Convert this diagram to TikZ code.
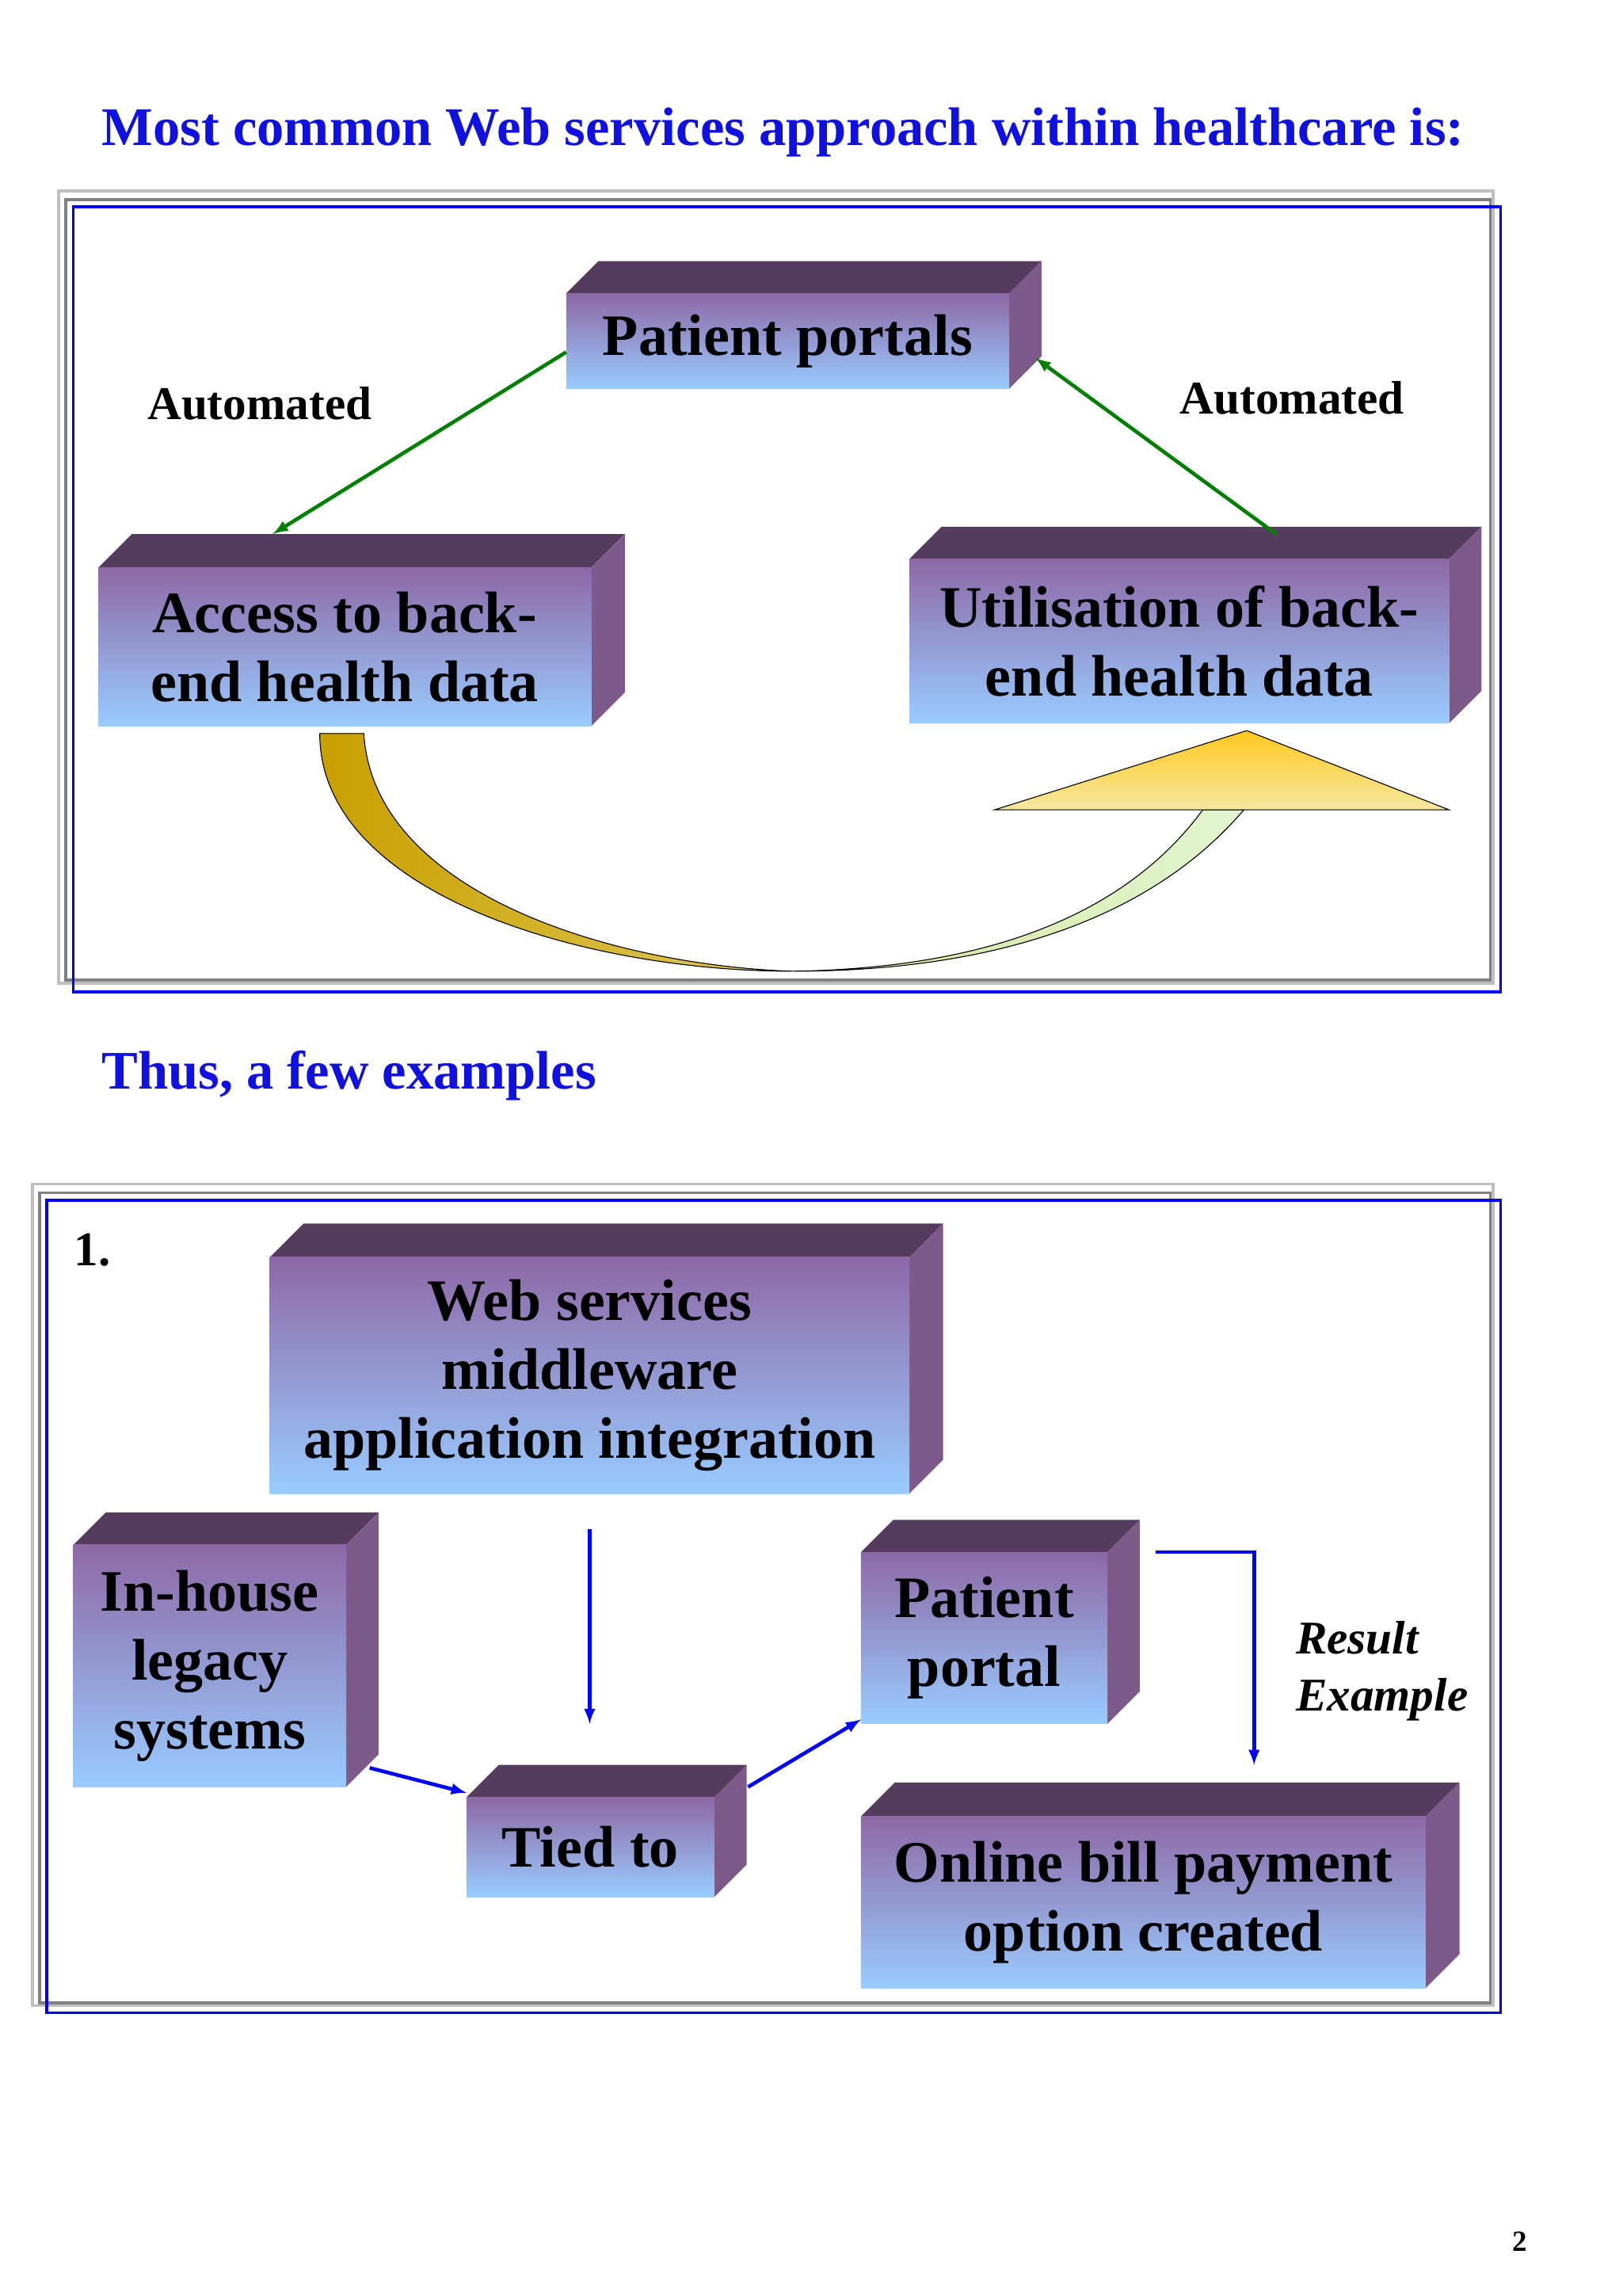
\documentclass[tikz,border=0pt]{standalone}
\usepackage{fontspec}
\setmainfont{Liberation Serif}
\begin{document}
\definecolor{ftop}{HTML}{8E68A6}
\definecolor{fbot}{HTML}{99CCFF}
\definecolor{ttop}{HTML}{553C5E}
\definecolor{sside}{HTML}{7E5A8A}
\definecolor{ttl}{HTML}{1010E0}
\definecolor{gold}{RGB}{200,160,0}
\definecolor{goldl}{RGB}{225,200,90}
\definecolor{grn1}{RGB}{215,230,150}
\definecolor{grn2}{RGB}{225,245,210}
\definecolor{yel1}{RGB}{255,200,30}
\definecolor{yel2}{RGB}{245,232,160}
\definecolor{dgreen}{RGB}{0,128,0}
\tikzset{
 front/.style={top color=ftop,bottom color=fbot,draw=none},
 btxt/.style={font=\fontsize{40}{47}\selectfont\bfseries,align=center,text=black},
 lbl/.style={font=\fontsize{32}{38}\selectfont\bfseries,text=black},
 garr/.style={draw=dgreen,line width=2.5pt,-latex},
 barr/.style={draw=blue,line width=2.5pt,-latex},
 gframe/.style={draw=gray!50,line width=2pt},
 bframe/.style={draw=blue,line width=2pt},
}
\newcommand{\mybox}[7]{%
 \fill[ttop] (#2,#5) -- (#2+#6,#5-#6) -- (#4+#6,#5-#6) -- (#4,#5) -- cycle;
 \fill[sside] (#4,#5) -- (#4+#6,#5-#6) -- (#4+#6,#3-#6) -- (#4,#3) -- cycle;
 \path[front] (#2,#3) rectangle (#4,#5);
 \node[btxt] (#1) at ({(#2+#4)/2},{(#3+#5)/2}) {#7};
}
\begin{tikzpicture}[x=1pt,y=-1pt]
\useasboundingbox[fill=white] (0,0) rectangle (1106,1565);
\node[font=\fontsize{37}{44}\selectfont\bfseries,text=ttl,anchor=west] (title) at (66,90) {Most common Web services approach within healthcare is:};
\draw[gframe] (40,130) rectangle (1018,670);
\draw[gframe,draw=gray] (45,136) rectangle (1016,668);
\draw[bframe] (50,141) rectangle (1023,676);
\fill[left color=gold,right color=goldl,draw=black,line width=0.6pt]
 (218,500) .. controls (218,610) and (400,662) .. (540,662)
 .. controls (420,658) and (255,610) .. (248,500) -- cycle;
\fill[left color=grn1,right color=grn2,draw=black,line width=0.6pt]
 (540,662) .. controls (690,662) and (790,620) .. (848,552)
 -- (820,552) .. controls (770,620) and (680,660) .. (540,662) -- cycle;
\fill[top color=yel1,bottom color=yel2,draw=black,line width=0.6pt]
 (678,552) -- (850,498) -- (988,552) -- cycle;
\mybox{pp}{386}{265}{688}{200}{22}{Patient portals}
\mybox{acc}{67}{495}{403}{387}{23}{Access to back-\\end health data}
\mybox{util}{620}{493}{988}{381}{22}{Utilisation of back-\\end health data}
\coordinate (a1s) at (386,240); \coordinate (a1e) at (186,364);
\coordinate (a2s) at (870,364); \coordinate (a2e) at (706,244);
\draw[garr] (a1s) -- (a1e);
\draw[garr] (a2s) -- (a2e);
\node[lbl] (au1) at (177,275) {Automated};
\node[lbl] (au2) at (881,271) {Automated};
\node[font=\fontsize{37}{44}\selectfont\bfseries,text=ttl,anchor=west] (thus) at (66,733) {Thus, a few examples};
\draw[gframe] (22,807) rectangle (1018,1367);
\draw[gframe,draw=gray] (27,813) rectangle (1016,1365);
\draw[bframe] (32,818) rectangle (1023,1372);
\node[font=\fontsize{33}{38}\selectfont\bfseries] (one) at (63,852) {1.};
\mybox{ws}{184}{1018}{620}{857}{23}{Web services\\middleware\\application integration}
\mybox{ih}{50}{1218}{236}{1053}{22}{In-house\\legacy\\systems}
\mybox{tied}{318}{1293}{487}{1225}{22}{Tied to}
\mybox{ppo}{587}{1175}{755}{1058}{22}{Patient\\portal}
\mybox{bill}{587}{1355}{972}{1238}{23}{Online bill payment\\option created}
\coordinate (b1s) at (402,1042); \coordinate (b1e) at (402,1175);
\coordinate (b2s) at (252,1205); \coordinate (b2e) at (318,1222);
\coordinate (b3s) at (510,1218); \coordinate (b3e) at (587,1172);
\coordinate (b4s) at (788,1058); \coordinate (b4m) at (855,1058); \coordinate (b4e) at (855,1203);
\draw[barr] (b1s) -- (b1e);
\draw[barr] (b2s) -- (b2e);
\draw[barr] (b3s) -- (b3e);
\draw[barr] (b4s) -- (b4m) -- (b4e);
\node[font=\fontsize{32}{39}\selectfont\bfseries\itshape,align=left,anchor=west] (res) at (880,1139) {Result\\Example};
\node[font=\fontsize{20}{22}\selectfont\bfseries] (pg) at (1036,1528) {2};
\end{tikzpicture}
\end{document}
